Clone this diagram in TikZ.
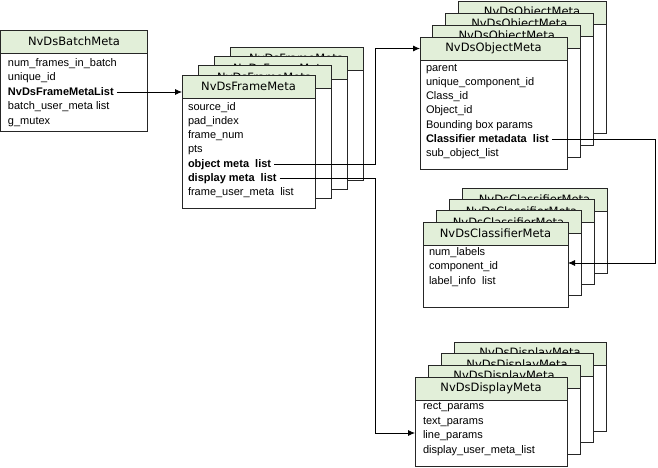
\documentclass[tikz,border=0pt]{standalone}
\usepackage{fontspec}
\setmainfont{Liberation Sans}
\newfontfamily\headfont{DejaVu Sans}
\usetikzlibrary{arrows.meta, positioning}
\definecolor{headgreen}{RGB}{226,239,217}

\begin{document}
\begin{tikzpicture}[x=1pt,y=-1pt,>={Latex[length=7pt,width=6pt]},line width=0.8pt,
 head/.style={draw=black!85,fill=headgreen,anchor=north west,minimum height=23,
   inner sep=0,outer sep=0,font=\headfont\fontsize{11.5}{13}\selectfont},
 box/.style={draw=black!85,fill=white,inner sep=0,outer sep=0},
 field/.style={anchor=west,inner sep=0,outer xsep=3,text height=8,text depth=2,
   font=\fontsize{11}{13}\selectfont}]
\useasboundingbox (0,0) rectangle (658,467);

% batch
\node[head,minimum width=147](batcht) at (0.5,30) {NvDsBatchMeta};
\node[box,minimum width=147,minimum height=78,below=0 of batcht](batchb) {};
\foreach \n/\t [count=\i] in {nframes/num\_frames\_in\_batch, uid/unique\_id,
   framelist/\textbf{NvDsFrameMetaList}, busermeta/batch\_user\_meta\ list, mutex/g\_mutex}
   \node[field](\n) at (5,48.5+14.5*\i) {\t};

% frame stack
\foreach \k in {3,2,1}{
  \node[head,minimum width=133](frame\k) at (182+16*\k,75-9.3*\k) {NvDsFrameMeta};
  \node[box,minimum width=133,minimum height=110,below=0 of frame\k](frame\k b) {};}
\node[head,minimum width=133](framet) at (182,75) {NvDsFrameMeta};
\node[box,minimum width=133,minimum height=110,below=0 of framet](frameb) {};
\foreach \n/\t [count=\i] in {srcid/source\_id, padidx/pad\_index, fnum/frame\_num, pts/pts,
   objlist/\textbf{object meta\ \ list}, displist/\textbf{display meta\ \ list},
   fusermeta/frame\_user\_meta\ \ list}
   \node[field](\n) at (185,92.7+14.3*\i) {\t};

% object stack
\foreach \k in {3,2,1}{
  \node[head,minimum width=148](obj\k) at (420+12.7*\k,37-12*\k) {NvDsObjectMeta};
  \node[box,minimum width=148,minimum height=109,below=0 of obj\k](obj\k b) {};}
\node[head,minimum width=147](objt) at (420,37) {NvDsObjectMeta};
\node[box,minimum width=147,minimum height=109,below=0 of objt](objb) {};
\foreach \n/\t [count=\i] in {parent/parent, ucid/unique\_component\_id, clsid/Class\_id,
   objid/Object\_id, bbox/Bounding box params, clslist/\textbf{Classifier metadata\ \ list},
   subobj/sub\_object\_list}
   \node[field](\n) at (423,53.7+14.3*\i) {\t};

% classifier stack
\foreach \k in {3,2,1}{
  \node[head,minimum width=145](cls\k) at (423+13*\k,222-11.3*\k) {NvDsClassifierMeta};
  \node[box,minimum width=145,minimum height=62,below=0 of cls\k](cls\k b) {};}
\node[head,minimum width=145](clst) at (423,222) {NvDsClassifierMeta};
\node[box,minimum width=145,minimum height=62,below=0 of clst](clsb) {};
\foreach \n/\t [count=\i] in {nlabels/num\_labels, compid/component\_id,
   labelinfo/label\_info\ \ list}
   \node[field](\n) at (426,237.5+14.5*\i) {\t};

% display stack
\foreach \k in {3,2,1}{
  \node[head,minimum width=152](disp\k) at (415+13*\k,377-11.7*\k) {NvDsDisplayMeta};
  \node[box,minimum width=152,minimum height=66,below=0 of disp\k](disp\k b) {};}
\node[head,minimum width=152](dispt) at (415,377) {NvDsDisplayMeta};
\node[box,minimum width=152,minimum height=66,below=0 of dispt](dispb) {};
\foreach \n/\t [count=\i] in {rect/rect\_params, textp/text\_params, linep/line\_params,
   dusermeta/display\_user\_meta\_list}
   \node[field](\n) at (420,392.5+14.4*\i) {\t};

% links
\coordinate (bus) at (375,100);
\coordinate (rim) at (655,263);
\draw[->] (framelist.east) -- (framelist.east -| framet.west);
\draw[->] (objlist.east) -- (objlist.east -| bus) |- (objt.west);
\draw[->] (displist.east) -- (displist.east -| bus) |- (dispb.west);
\draw[->] (clslist.east) -| (rim) -- (rim -| clsb.east);
\end{tikzpicture}
\end{document}
